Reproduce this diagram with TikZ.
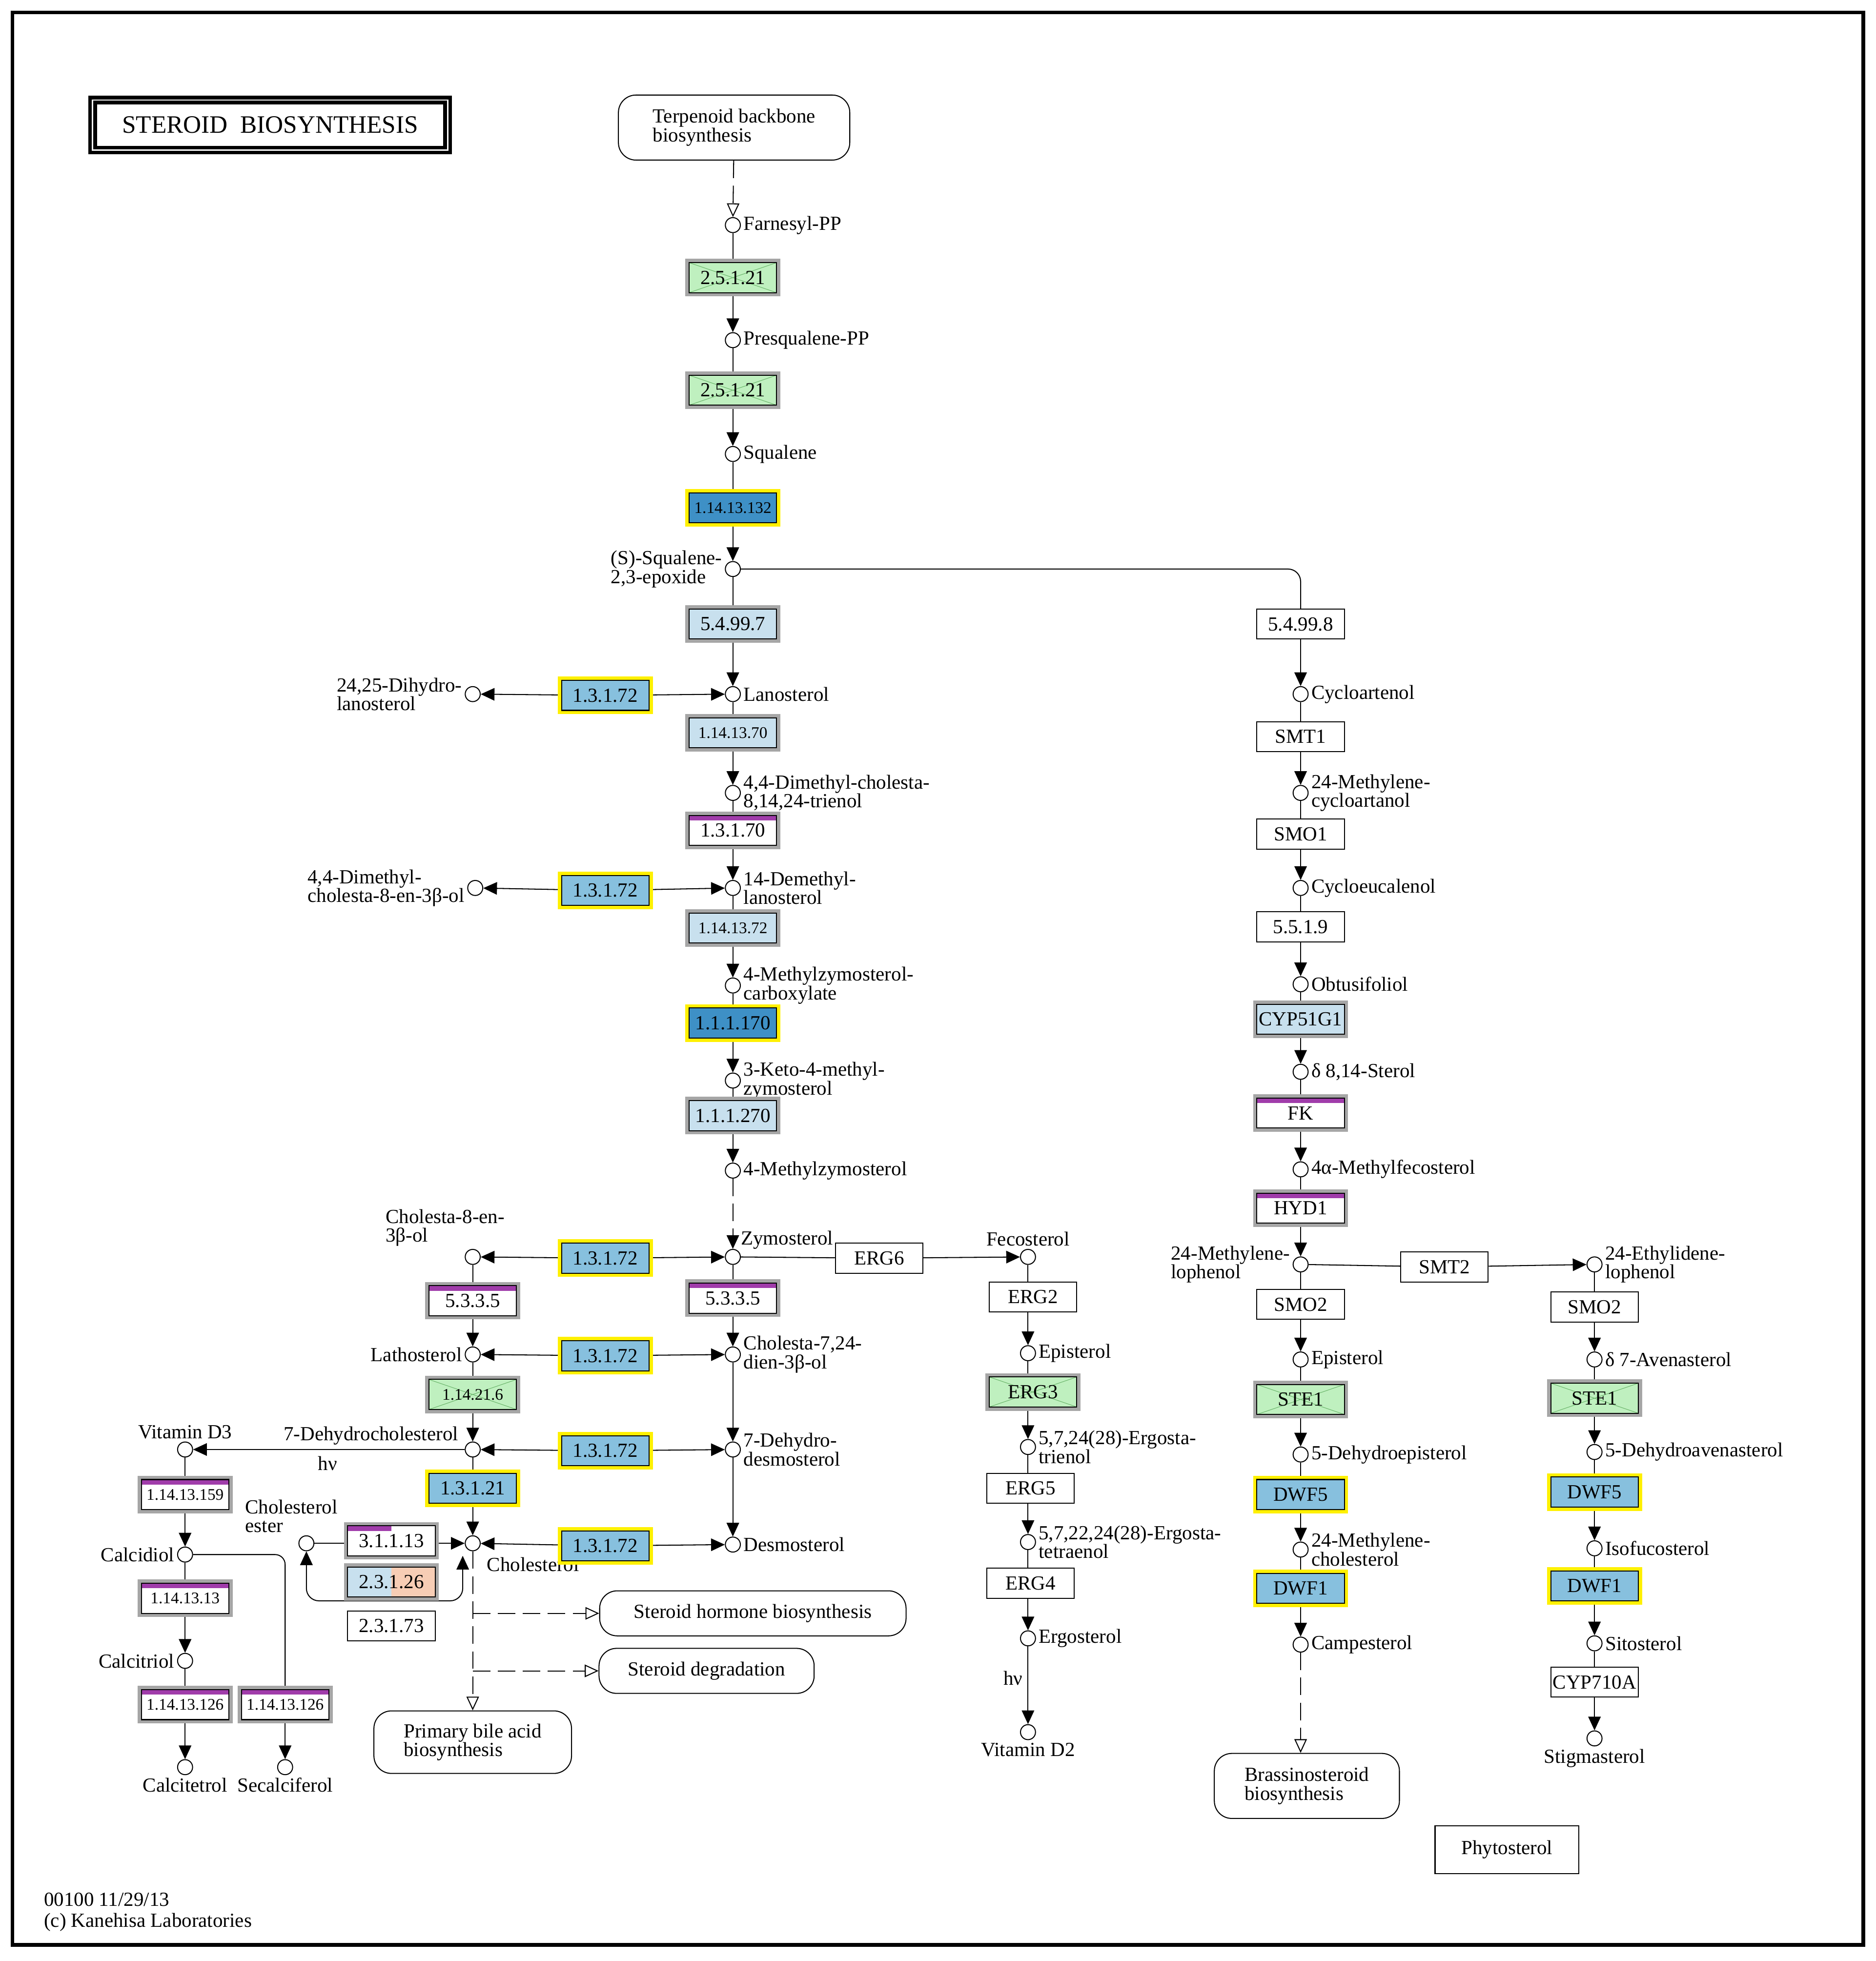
\documentclass[tikz,border=0pt]{standalone}
\usepackage{fontspec}
\setmainfont{Liberation Serif}
\usetikzlibrary{arrows.meta,calc}
\definecolor{kgreen}{RGB}{191,240,191}
\definecolor{klblue}{RGB}{200,224,238}
\definecolor{kmblue}{RGB}{135,192,222}
\definecolor{kdblue}{RGB}{62,144,198}
\definecolor{kpeach}{RGB}{247,205,181}
\definecolor{kpurple}{RGB}{160,60,170}
\definecolor{kyellow}{RGB}{255,240,0}
\pgfdeclarelayer{bg}
\pgfsetlayers{bg,main}
\tikzset{
  cpd/.style={circle,draw,thick,fill=white,inner sep=0pt,minimum size=12pt},
  lbl/.style={font=\fontsize{16}{15}\selectfont,align=left,inner sep=1pt,label distance=1pt},
  enz/.style={draw,thick,fill=white,minimum width=70pt,minimum height=24pt,inner sep=1pt,font=\fontsize{16}{16}\selectfont},
  nar/.style={font=\fontsize{13}{13}\selectfont},
  gry/.style={preaction={draw=gray!70,line width=6pt}},
  ylw/.style={preaction={draw=kyellow,line width=6pt}},
  grn/.style={enz,gry,fill=kgreen,path picture={\draw[green!50!black!60,thin] (path picture bounding box.north west) -- (path picture bounding box.south east) (path picture bounding box.south west) -- (path picture bounding box.north east);}},
  lbl1/.style={enz,gry,fill=klblue},
  mbl/.style={enz,ylw,fill=kmblue},
  dbl/.style={enz,ylw,fill=kdblue},
  pur/.style={enz,gry,path picture={\fill[kpurple] (path picture bounding box.north west) rectangle ([yshift=-4pt]path picture bounding box.north east);}},
  pwy/.style={draw,thick,rounded corners=14pt,align=left,inner sep=6pt,font=\fontsize{16}{15}\selectfont,minimum height=36pt},
  rx/.style={thick,-{Triangle[length=11pt,width=10pt]}},
  ln/.style={thick},
  dsh/.style={thick,dash pattern=on 14pt off 6pt},
  otip/.style={-{Triangle[open,length=11pt,width=10pt]}}
}
\begin{document}
\begin{tikzpicture}[x=1pt,y=-1pt]
\useasboundingbox (0,0) rectangle (1500,1568);
\draw[line width=3pt] (10,10) rectangle (1490,1555);
\node[draw,line width=3pt,double,double distance=1pt,minimum width=284pt,minimum height=40pt,font=\fontsize{20}{20}\selectfont] (title) at (216,100) {STEROID\ \ BIOSYNTHESIS};

% pathway maps
\node[pwy,minimum width=185pt,minimum height=52pt] (tbb) at (587,102) {Terpenoid backbone\\biosynthesis};
\node[pwy,minimum width=245pt] (shb) at (602,1290) {Steroid hormone biosynthesis};
\node[pwy,minimum width=172pt] (sdg) at (565,1336) {Steroid degradation};
\node[pwy,minimum width=158pt,minimum height=50pt] (pba) at (378,1393) {Primary bile acid\\biosynthesis};
\node[pwy,minimum width=148pt,minimum height=52pt] (brs) at (1045,1428) {Brassinosteroid\\biosynthesis};
\node[draw,thick,minimum width=115pt,minimum height=38pt,font=\fontsize{16}{16}\selectfont] (phy) at (1205,1479) {Phytosterol};

% compounds
\node[cpd,label={[lbl]right:Farnesyl-PP}] (far) at (586,180) {};
\node[cpd,label={[lbl]right:Presqualene-PP}] (psq) at (586,272) {};
\node[cpd,label={[lbl]right:Squalene}] (sql) at (586,363) {};
\node[cpd,label={[lbl]left:(S)-Squalene-\\2,3-epoxide}] (epx) at (586,455) {};
\node[cpd,label={[lbl]right:Lanosterol}] (lan) at (586,555) {};
\node[cpd,label={[lbl]left:24,25-Dihydro-\\lanosterol}] (dhl) at (378,555) {};
\node[cpd,label={[lbl]right:4,4-Dimethyl-cholesta-\\8,14,24-trienol}] (dct) at (586,634) {};
\node[cpd,label={[lbl]right:14-Demethyl-\\lanosterol}] (dml) at (586,710) {};
\node[cpd,label={[lbl]left:4,4-Dimethyl-\\cholesta-8-en-3β-ol}] (dce) at (380,710) {};
\node[cpd,label={[lbl]right:4-Methylzymosterol-\\carboxylate}] (mzc) at (586,788) {};
\node[cpd,label={[lbl]right:3-Keto-4-methyl-\\zymosterol}] (kmz) at (586,864) {};
\node[cpd,label={[lbl]right:4-Methylzymosterol}] (mzy) at (586,936) {};
\node[cpd,label={[lbl]above right:Zymosterol}] (zym) at (586,1005) {};
\node[cpd,label={[lbl,xshift=-22pt]above:Cholesta-8-en-\\3β-ol}] (c8e) at (378,1005) {};
\node[cpd,label={[lbl]above:Fecosterol}] (fec) at (822,1005) {};
\node[cpd,label={[lbl]right:Cholesta-7,24-\\dien-3β-ol}] (cdi) at (586,1083) {};
\node[cpd,label={[lbl]left:Lathosterol}] (lat) at (378,1083) {};
\node[cpd,label={[lbl]right:7-Dehydro-\\desmosterol}] (dhd) at (586,1159) {};
\node[cpd,label={[lbl,yshift=11pt,label distance=4pt]left:7-Dehydrocholesterol}] (dhc) at (378,1159) {};
\node[cpd,label={[lbl]above:Vitamin D3}] (vd3) at (148,1159) {};
\node[cpd,label={[lbl,label distance=8pt]below right:Cholesterol}] (cho) at (378,1234) {};
\node[cpd,label={[lbl]right:Desmosterol}] (des) at (586,1235) {};
\node[cpd,label={[lbl,xshift=-12pt]above:Cholesterol\\ester}] (che) at (245,1234) {};
\node[cpd,label={[lbl]left:Calcidiol}] (cdl) at (148,1243) {};
\node[cpd,label={[lbl]left:Calcitriol}] (ctr) at (148,1328) {};
\node[cpd,label={[lbl]below:Calcitetrol}] (ctt) at (148,1413) {};
\node[cpd,label={[lbl]below:Secalciferol}] (scf) at (228,1413) {};
\node[cpd,label={[lbl]right:Episterol}] (eps) at (822,1082) {};
\node[cpd,label={[lbl]right:5,7,24(28)-Ergosta-\\trienol}] (etr) at (822,1157) {};
\node[cpd,label={[lbl]right:5,7,22,24(28)-Ergosta-\\tetraenol}] (ett) at (822,1233) {};
\node[cpd,label={[lbl]right:Ergosterol}] (erg) at (822,1310) {};
\node[cpd,label={[lbl]below:Vitamin D2}] (vd2) at (822,1385) {};
\node[cpd,label={[lbl]right:Cycloartenol}] (cya) at (1040,555) {};
\node[cpd,label={[lbl]right:24-Methylene-\\cycloartanol}] (mca) at (1040,634) {};
\node[cpd,label={[lbl]right:Cycloeucalenol}] (cye) at (1040,710) {};
\node[cpd,label={[lbl]right:Obtusifoliol}] (obt) at (1040,787) {};
\node[cpd,label={[lbl]right:δ 8,14-Sterol}] (stl) at (1040,857) {};
\node[cpd,label={[lbl]right:4α-Methylfecosterol}] (mfc) at (1040,935) {};
\node[cpd,label={[lbl]left:24-Methylene-\\lophenol}] (mlp) at (1040,1011) {};
\node[cpd,label={[lbl]right:24-Ethylidene-\\lophenol}] (elp) at (1275,1011) {};
\node[cpd,label={[lbl]right:Episterol}] (eps2) at (1040,1087) {};
\node[cpd,label={[lbl]right:5-Dehydroepisterol}] (dep) at (1040,1163) {};
\node[cpd,label={[lbl]right:24-Methylene-\\cholesterol}] (mch) at (1040,1239) {};
\node[cpd,label={[lbl]right:Campesterol}] (cmp) at (1040,1315) {};
\node[cpd,label={[lbl]right:δ 7-Avenasterol}] (avs) at (1275,1087) {};
\node[cpd,label={[lbl]right:5-Dehydroavenasterol}] (dav) at (1275,1161) {};
\node[cpd,label={[lbl]right:Isofucosterol}] (ifc) at (1275,1238) {};
\node[cpd,label={[lbl]right:Sitosterol}] (sit) at (1275,1314) {};
\node[cpd,label={[lbl]below:Stigmasterol}] (stg) at (1275,1390) {};

% enzymes
\node[grn] (e25a) at (586,222) {2.5.1.21};
\node[grn] (e25b) at (586,312) {2.5.1.21};
\node[dbl,nar] (e132) at (586,406) {1.14.13.132};
\node[lbl1] (e597) at (586,499) {5.4.99.7};
\node[enz] (e598) at (1040,499) {5.4.99.8};
\node[mbl] (r72a) at (484,556) {1.3.1.72};
\node[lbl1,nar] (e70) at (586,586) {1.14.13.70};
\node[pur] (e170) at (586,664) {1.3.1.70};
\node[mbl] (r72b) at (484,712) {1.3.1.72};
\node[lbl1,nar] (e72) at (586,742) {1.14.13.72};
\node[dbl] (e1170) at (586,818) {1.1.1.170};
\node[lbl1] (e1270) at (586,892) {1.1.1.270};
\node[mbl] (r72c) at (484,1006) {1.3.1.72};
\node[enz] (erg6) at (703,1006) {ERG6};
\node[pur] (i335a) at (586,1038) {5.3.3.5};
\node[pur] (i335b) at (378,1040) {5.3.3.5};
\node[mbl] (r72d) at (484,1084) {1.3.1.72};
\node[grn,nar] (e216) at (378,1115) {1.14.21.6};
\node[mbl] (r72e) at (484,1160) {1.3.1.72};
\node[mbl] (e121) at (378,1190) {1.3.1.21};
\node[mbl] (r72f) at (484,1236) {1.3.1.72};
\node[enz,gry,path picture={\fill[kpurple] (path picture bounding box.north west) rectangle ([yshift=-4pt]path picture bounding box.north);}] (e113) at (313,1232) {3.1.1.13};
\node[enz,gry,path picture={\fill[klblue] (path picture bounding box.north west) rectangle (path picture bounding box.south);\fill[kpeach] (path picture bounding box.north) rectangle (path picture bounding box.south east);}] (e126) at (313,1265) {2.3.1.26};
\node[enz] (e173) at (313,1300) {2.3.1.73};
\node[pur,nar] (e159) at (148,1195) {1.14.13.159};
\node[pur,nar] (e1313) at (148,1278) {1.14.13.13};
\node[pur,nar] (e126a) at (148,1363) {1.14.13.126};
\node[pur,nar] (e126b) at (228,1363) {1.14.13.126};
\node[enz] (erg2) at (826,1037) {ERG2};
\node[grn] (erg3) at (826,1113) {ERG3};
\node[enz] (erg5) at (824,1190) {ERG5};
\node[enz] (erg4) at (824,1266) {ERG4};
\node[enz] (smt1) at (1040,589) {SMT1};
\node[enz] (smo1) at (1040,667) {SMO1};
\node[enz] (e519) at (1040,741) {5.5.1.9};
\node[lbl1] (cyp) at (1040,815) {CYP51G1};
\node[pur] (fk) at (1040,890) {FK};
\node[pur] (hyd1) at (1040,966) {HYD1};
\node[enz] (smt2) at (1155,1013) {SMT2};
\node[enz] (smo2a) at (1040,1043) {SMO2};
\node[grn] (ste1a) at (1040,1119) {STE1};
\node[mbl] (dwf5a) at (1040,1195) {DWF5};
\node[mbl] (dwf1a) at (1040,1270) {DWF1};
\node[enz] (smo2b) at (1275,1045) {SMO2};
\node[grn] (ste1b) at (1275,1118) {STE1};
\node[mbl] (dwf5b) at (1275,1193) {DWF5};
\node[mbl] (dwf1b) at (1275,1268) {DWF1};
\node[enz] (c710) at (1275,1345) {CYP710A};

\node[lbl] (hv1) at (262,1170) {hν};
\node[lbl] (hv2) at (810,1342) {hν};
\node[lbl,anchor=west] (ver) at (34,1519) {00100 11/29/13};
\node[lbl,anchor=west] (kl) at (34,1537) {(c) Kanehisa Laboratories};

\coordinate (j1) at (378,1290);
\coordinate (j2) at (378,1336);

% connectors
\begin{pgfonlayer}{bg}
\foreach \a/\b in {far/psq,psq/sql,sql/epx,epx/lan,lan/dct,dct/dml,dml/mzc,mzc/kmz,kmz/mzy,
  zym/cdi,cdi/dhd,dhd/des,c8e/lat,lat/dhc,dhc/cho,vd3/cdl,cdl/ctr,ctr/ctt,
  fec/eps,eps/etr,etr/ett,ett/erg,erg/vd2,e598/cya,cya/mca,mca/cye,cye/obt,obt/stl,stl/mfc,mfc/mlp,
  mlp/eps2,eps2/dep,dep/mch,mch/cmp,elp/avs,avs/dav,dav/ifc,ifc/sit,sit/stg,
  r72a/dhl,r72a/lan,r72b/dce,r72b/dml,r72c/c8e,r72c/zym,r72d/lat,r72d/cdi,r72e/dhc,r72e/dhd,r72f/cho,r72f/des,
  erg6/fec,smt2/elp,dhc/vd3,che/cho,e126b/scf}
  \draw[rx] (\a) -- (\b);
\draw[ln] (zym) -- (erg6);
\draw[ln] (mlp) -- (smt2);
\draw[ln,rounded corners=10pt] (epx) -| (e598);
\draw[ln,rounded corners=8pt] (cdl) -| (e126b);
\draw[thick,{Triangle[length=11pt,width=10pt]}-{Triangle[length=11pt,width=10pt]},rounded corners=10pt] (che) -- ($(che)+(0,46)$) -| ($(cho)+(-8,10)$);
\draw[dsh,rx] (mzy) -- (zym);
\draw[dsh,otip] (tbb) -- (far);
\draw[dsh,otip] (cho) -- (pba);
\draw[dsh,otip,rounded corners=8pt] (j1) -- ++(8,0) -- (shb);
\draw[dsh,otip,rounded corners=8pt] (j2) -- ++(8,0) -- (sdg);
\draw[dsh,otip] (cmp) -- ($(brs.north)+(-5,0)$);
\end{pgfonlayer}
\end{tikzpicture}
\end{document}
